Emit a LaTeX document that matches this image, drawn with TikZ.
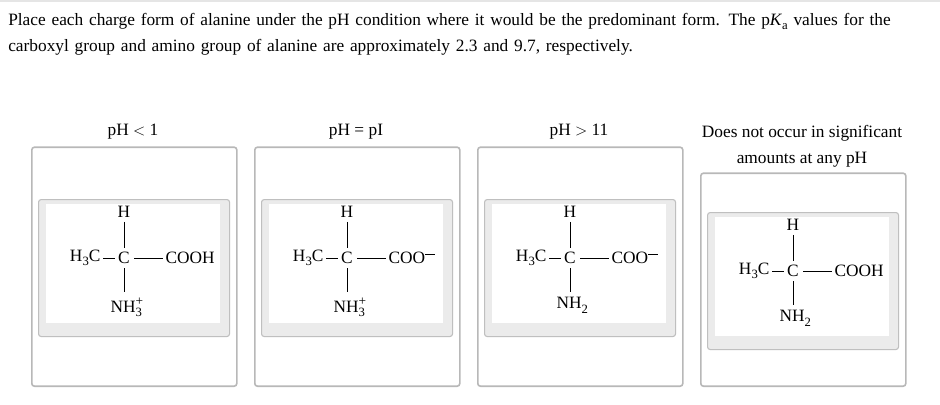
\documentclass[tikz,border=0pt]{standalone}
\usepackage{fontspec}
\setmainfont{Liberation Serif}
\newcommand\lowsub[1]{\raisebox{-0.55ex}{\fontsize{9.5}{9.5}\selectfont #1}}
\newcommand\subsupp[2]{\rlap{\raisebox{-0.55ex}{\fontsize{9.5}{9.5}\selectfont #1}}\raisebox{0.9ex}{\fontsize{10}{10}\selectfont #2}}
\newcommand\minsup{\raisebox{1.15ex}{\rule{0.55em}{0.5pt}}}
\begin{document}
\begin{tikzpicture}[x=0.75pt,y=-0.75pt,
  outerbox/.style={draw=black!28,line width=1.2pt,rounded corners=2pt,fill=white},
  card/.style={draw=black!25,line width=0.8pt,rounded corners=2pt,fill=black!8},
  atom/.style={font=\fontsize{13}{15}\selectfont,inner sep=1pt},
  hdr/.style={font=\fontsize{13}{15}\selectfont,align=center},
  bond/.style={line width=0.7pt}]
\useasboundingbox (0,0) rectangle (940,404);
\draw[black!10,line width=1pt] (0,1) -- (940,1);
\node[font=\fontsize{13}{19.5}\selectfont,align=left,anchor=north west,inner sep=0pt,text width=900pt] (q) at (8,13)
 {Place each charge form of alanine under the pH condition where it would be the predominant form. The p\textit{K}\lowsub{a} values for the\\ carboxyl group and amino group of alanine are approximately 2.3 and 9.7, respectively.};
\newcommand\alabox[6]{% #1 prefix, #2 left x, #3 height, #4 card top, #5 right group, #6 N group
  \node[outerbox,minimum width=205*0.75pt,minimum height=#3pt,anchor=south west] (#1box) at (#2,387) {};
  \node[card,minimum width=191*0.75pt,minimum height=137*0.75pt,anchor=north west] (#1card) at (#2+7,#4) {};
  \fill[white] (#2+15,#4+5) rectangle (#2+189,#4+124);
  \node[atom] (#1c) at (#2+93,#4+59) {C};
  \node[atom] (#1h) at (#2+93,#4+13) {H};
  \node[atom,anchor=north west] (#1n) at (#2+78,#4+97) {#6};
  \node[atom,anchor=east] (#1m) at (#2+71,#4+59) {H\lowsub{3}C};
  \node[atom,anchor=west] (#1r) at (#2+133,#4+59) {#5};
  \draw[bond] ([yshift=-2pt]#1h.south) -- ([yshift=2pt]#1c.north);
  \draw[bond] ([yshift=-2pt]#1c.south) -- ([yshift=3pt]#1c.south |- #1n.north);
  \draw[bond] ([xshift=1pt]#1m.east) -- ([xshift=-1pt]#1c.west);
  \draw[bond] ([xshift=2pt]#1c.east) -- ([xshift=-1pt]#1r.west);
}
\alabox{a}{31}{179.25}{199}{COOH}{NH\subsupp{3}{+}}
\alabox{b}{254}{179.25}{199}{COO\minsup}{NH\subsupp{3}{+}}
\alabox{c}{477}{179.25}{199}{COO\minsup}{NH\lowsub{2}}
\alabox{d}{700}{159.75}{212}{COOH}{NH\lowsub{2}}
\node[hdr] (ha) at (133,132) {pH $<$ 1};
\node[hdr] (hb) at (356,132) {pH = pI};
\node[hdr] (hc) at (579,132) {pH $>$ 11};
\node[hdr,font=\fontsize{13}{19.5}\selectfont] (hd) at (802,146) {Does not occur in significant\\ amounts at any pH};
\end{tikzpicture}
\end{document}
